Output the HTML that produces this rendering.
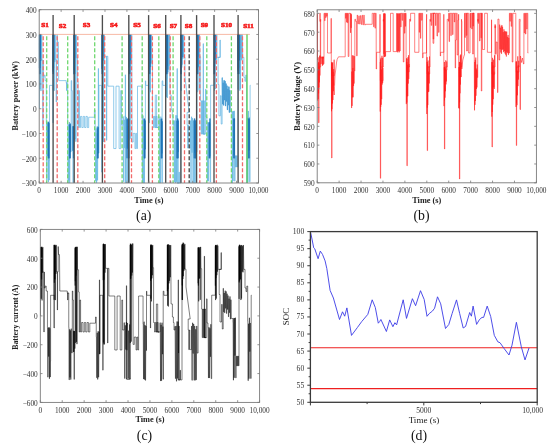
<!DOCTYPE html>
<html><head><meta charset="utf-8"><title>Battery figure</title>
<style>html,body{margin:0;padding:0;background:#fff;width:550px;height:448px;overflow:hidden}svg{display:block}</style>
</head><body>
<svg width="550" height="448" viewBox="0 0 550 448">
<style>
.tk{font-family:'Liberation Serif', 'Times New Roman', serif;font-size:7.3px;fill:#333}
.lb{font-family:'Liberation Serif', 'Times New Roman', serif;font-size:8.3px;font-weight:bold;fill:#222}
.cap{font-family:'Liberation Serif', 'Times New Roman', serif;font-size:13.8px;fill:#111}
.st{font-family:'Liberation Serif', 'Times New Roman', serif;font-size:7.1px;font-weight:bold;fill:#f51a1a;stroke:#f51a1a;stroke-width:0.6px}
.tkd{font-family:'Liberation Serif', 'Times New Roman', serif;font-size:7.6px;fill:#333}
.lbd{font-family:'Liberation Serif', 'Times New Roman', serif;font-size:9.1px;fill:#222}
</style>
<rect width="550" height="448" fill="#fff"/>
<polyline points="39.3,108.5 39.4,108.5 39.4,34.85 39.47,34.85 39.43,68.2 39.5,68.2 39.48,34.67 39.56,34.67 39.57,89.14 39.64,89.14 39.67,34.63 39.74,34.63 39.8,65.92 39.87,65.92 39.94,34.52 40.02,34.52 40.11,89.25 40.18,89.25 40.29,34.5 40.36,34.5 40.48,68 40.55,68 40.7,34.46 40.77,34.46 40.92,91.05 41,91.05 41.17,35.29 41.24,35.29 41.42,60.93 41.5,60.93 41.7,34.46 41.77,34.46 41.98,60.08 42.05,60.08 42.8,60.08 42.8,127.53 43.05,127.53 43.05,60.08 43.2,60.08 43.2,77.34 44.1,77.34 44.1,75.15 45.1,75.15 45.1,80.63 46.34,80.63 46.34,122.55 46.49,122.55 46.72,180.25 46.88,180.25 47.11,122.68 47.26,122.68 47.49,156.17 47.64,156.17 47.87,121.79 48.02,121.79 48.25,182.08 48.41,182.08 48.64,123.13 48.79,123.13 49.02,180.06 49.17,180.06 49.3,180.06 49.3,161.39 49.5,161.39 49.5,85.38 53,85.38 52.9,85.38 52.9,122.86 53.2,122.86 53.2,85.38 53,85.38 53,34.46 53.08,34.46 53.03,90.38 53.11,90.38 53.1,34.46 53.18,34.46 53.2,71.6 53.27,71.6 53.32,34.46 53.4,34.46 53.47,67.43 53.55,67.43 53.64,34.46 53.72,34.46 53.83,68.15 53.91,68.15 54.04,34.46 54.12,34.46 54.27,90.71 54.35,90.71 54.52,34.46 54.6,34.46 54.79,62.11 54.87,62.11 55.08,34.46 55.15,34.46 55.38,59.82 55.46,59.82 56.2,59.82 56.2,101.94 56.45,101.94 56.45,59.82 57.1,59.82 57.1,34.46 57.4,42.05 58.4,42.05 58.7,80.63 66.2,80.63 66.2,80.63 66.2,82.83 67.1,82.83 66.5,82.83 66.5,90.62 66.75,90.62 66.75,82.83 67.66,82.83 67.66,122.06 67.81,122.06 68.05,183 68.21,183 68.44,124.46 68.6,124.46 68.83,180.46 68.99,180.46 69.23,125.73 69.38,125.73 69.62,183 69.78,183 70.01,123.7 70.17,123.7 70.41,151.82 70.56,151.82 71.2,151.82 71.2,80.63 71.7,80.63 71.7,90.62 72.3,90.62 72.3,150.88 72.51,150.88 72.51,126.21 72.59,126.21 72.71,150.47 72.79,150.47 72.91,126.66 72.99,126.66 73.11,182.9 73.18,182.9 73.3,126.35 73.38,126.35 73.5,146.78 73.58,146.78 74,146.78 74,35.56 74.08,35.56 74.03,74.69 74.11,74.69 74.1,34.49 74.18,34.49 74.2,69.98 74.28,69.98 74.33,35.07 74.41,35.07 74.48,140.24 74.56,140.24 74.66,34.46 74.74,34.46 74.86,64.09 74.94,64.09 75.08,34.46 75.16,34.46 75.32,139.07 75.4,139.07 75.57,34.46 75.65,34.46 75.85,141.67 75.93,141.67 76.15,34.46 76.23,34.46 76.46,57.77 76.54,57.77 77.5,57.77 77.5,81.73 78.1,81.73 78.1,127.53 78.7,127.53 78.7,90.62 79.5,90.62 79.5,127.53 80.5,127.53 80.5,116.41 81.87,116.41 81.87,127.53 83.23,127.53 83.23,116.41 84.6,116.41 84.6,127.53 85.97,127.53 85.97,116.41 87.33,116.41 87.33,127.53 88.7,127.53 88.7,127.53 88.7,117.23 94.2,117.23 94.4,117.23 94.4,110 95.15,110 95.15,133.26 95.33,133.26 95.6,180.94 95.78,180.94 96.06,128.54 96.24,128.54 96.52,182.84 96.7,182.84 96.97,126.6 97.16,126.6 97.43,180.3 97.61,180.3 97.89,127.37 98.07,127.37 98.34,153.08 98.53,153.08 98.3,153.08 98.3,68.55 98.55,68.55 98.55,153.08 98.9,153.08 98.9,85.38 101.5,85.38 101.7,85.38 101.7,172.13 101.95,172.13 101.95,85.38 102.1,85.38 102.1,34.46 102.18,34.46 102.13,68.83 102.21,68.83 102.2,34.46 102.28,34.46 102.3,139.74 102.37,139.74 102.42,34.46 102.5,34.46 102.57,141.95 102.65,141.95 102.74,34.46 102.82,34.46 102.93,68.32 103.01,68.32 103.14,34.46 103.22,34.46 103.37,141.95 103.45,141.95 103.62,34.46 103.7,34.46 103.89,60.77 103.97,60.77 104.18,34.46 104.25,34.46 104.48,56.27 104.56,56.27 106.5,56.27 106.5,140.37 106.75,140.37 106.75,56.27 107.8,56.27 107.8,86.16 113.7,86.16 113.7,86.16 113.7,148.55 116,148.55 116,148.55 116,86.16 119.1,86.16 119.1,86.16 119.1,148.55 120.7,148.55 120.7,90.62 121.5,90.62 121.5,125.19 123.04,125.19 123.04,116.61 123.26,116.61 123.58,181.81 123.79,181.81 124.12,119.81 124.33,119.81 124.66,147.87 124.87,147.87 125.19,115.82 125.41,115.82 125.73,148.79 125.95,148.79 126.27,117.01 126.49,117.01 126.81,181.33 127.02,181.33 127.35,126.06 127.56,126.06 127.88,181.76 128.1,181.76 128.42,118.78 128.64,118.78 128.96,182.52 129.18,182.52 125.3,182.52 125.3,74.83 125.55,74.83 125.55,182.52 129.1,182.52 129.1,34.46 129.2,34.46 129.14,140.31 129.23,140.31 129.22,34.46 129.32,34.46 129.34,67.51 129.44,67.51 129.5,34.46 129.59,34.46 129.68,67.08 129.77,67.08 129.89,34.46 129.98,34.46 130.12,138.7 130.22,138.7 130.39,34.46 130.48,34.46 130.67,63.84 130.77,63.84 130.98,34.46 131.07,34.46 131.31,60.67 131.41,60.67 131.66,34.46 131.76,34.46 132.04,142.05 132.13,142.05 133.2,142.05 133.2,133.36 134.1,133.36 134.1,133.36 134.95,133.36 134.95,148.55 135.8,148.55 135.8,133.36 136.65,133.36 136.65,148.55 137.5,148.55 137.5,148.55 137.5,86.16 141.1,86.16 141.96,86.16 141.96,118.34 142.15,118.34 142.43,182.49 142.61,182.49 142.89,115.57 143.08,115.57 143.36,183 143.55,183 143.83,119.45 144.02,119.45 144.3,183 144.48,183 144.76,120.6 144.95,120.6 145.23,149.2 145.42,149.2 145.4,149.2 145.4,80.85 145.7,80.85 145.7,85.38 149.2,85.38 149.3,85.38 149.3,122.86 149.55,122.86 149.55,85.38 149.5,85.38 149.5,34.46 149.58,34.46 149.53,69.53 149.61,69.53 149.6,34.46 149.68,34.46 149.7,89.04 149.77,89.04 149.82,34.46 149.9,34.46 149.97,67.26 150.05,67.26 150.14,34.46 150.22,34.46 150.33,92.16 150.41,92.16 150.54,34.46 150.62,34.46 150.77,66.84 150.85,66.84 151.02,34.46 151.1,34.46 151.29,63.48 151.37,63.48 151.58,34.46 151.65,34.46 151.88,55.67 151.96,55.67 152.5,55.67 152.5,116.41 153.42,116.41 153.42,127.53 154.33,127.53 154.33,116.41 155.25,116.41 155.25,127.53 156.17,127.53 156.17,116.41 157.08,116.41 157.08,127.53 158,127.53 155.3,127.53 155.3,95.12 156.6,95.12 156.6,127.53 158.96,127.53 158.96,116.64 159.15,116.64 159.43,183 159.61,183 159.89,119.2 160.08,119.2 160.36,183 160.55,183 160.83,116.7 161.02,116.7 161.3,153.39 161.48,153.39 161.77,121.31 161.95,121.31 162.23,182.6 162.42,182.6 162.1,182.6 162.1,80.85 162.8,80.85 162.8,85.38 166,85.38 166.2,85.38 166.2,34.46 166.31,34.46 166.24,80.72 166.34,80.72 166.32,34.46 166.43,34.46 166.45,97.01 166.55,97.01 166.6,34.46 166.71,34.46 166.79,78.73 166.89,78.73 167,34.46 167.1,34.46 167.24,97.93 167.34,97.93 167.5,34.46 167.61,34.46 167.79,72.28 167.9,72.28 168.1,34.46 168.21,34.46 168.44,69.55 168.54,69.55 168.79,34.46 168.9,34.46 169.17,65.67 169.28,65.67 169.57,34.46 169.68,34.46 169.99,95.09 170.1,95.09 171.3,95.09 171.3,110 172.3,110 172.3,116.41 172.9,116.41 172.9,125.19 173.8,125.19 173.8,120.98 174,120.98 174.31,181.95 174.51,181.95 174.82,120.52 175.02,120.52 175.33,183 175.53,183 175.84,115.31 176.04,115.31 176.35,181.69 176.55,181.69 176.86,115.47 177.06,115.47 177.37,152.06 177.57,152.06 177.88,120.65 178.08,120.65 178.39,183 178.59,183 177.1,183 177.1,68.55 177.35,68.55 177.35,183 179.1,183 179.1,172.13 179.35,172.13 179.35,183 180.9,183 180.9,34.46 180.99,34.46 180.93,90.48 181.02,90.48 181,34.46 181.09,34.46 181.1,74.46 181.19,74.46 181.23,34.46 181.32,34.46 181.39,90.63 181.47,90.63 181.56,34.46 181.65,34.46 181.76,67.56 181.85,67.56 181.98,34.46 182.07,34.46 182.22,64.53 182.31,64.53 182.48,34.46 182.57,34.46 182.76,58.97 182.84,58.97 183.05,34.46 183.14,34.46 183.37,57.28 183.45,57.28 183.7,34.46 183.78,34.46 184.05,57.19 184.13,57.19 184.9,57.19 184.9,76.24 189.1,112.32 187.1,112.32 187.1,125.19 187.65,125.19 187.65,148.08 188.2,148.08 188.2,125.19 188.75,125.19 188.75,148.08 189.3,148.08 190.39,148.08 190.39,120.69 190.6,120.69 190.91,183 191.12,183 191.43,116.82 191.64,116.82 191.95,152.61 192.15,152.61 192.46,118.15 192.67,118.15 192.98,183 193.19,183 193.5,120.59 193.7,120.59 194.01,183 194.22,183 194.53,124.37 194.74,124.37 195.05,183 195.26,183 195.57,120.57 195.77,120.57 196.08,152.16 196.29,152.16 197,152.16 197,34.85 197.09,34.85 197.04,72.18 197.13,72.18 197.12,34.89 197.21,34.89 197.24,74.68 197.33,74.68 197.39,35.22 197.48,35.22 197.56,92.11 197.66,92.11 197.77,34.56 197.86,34.56 198,67.41 198.09,67.41 198.25,35.59 198.34,35.59 198.53,66.67 198.62,66.67 198.83,34.46 198.92,34.46 199.15,90.43 199.24,90.43 199.49,34.46 199.59,34.46 199.86,56.68 199.95,56.68 200.6,56.68 200.6,100.8 201.14,100.8 201.14,134.07 201.67,134.07 201.67,100.8 202.21,100.8 202.21,134.07 202.75,134.07 202.75,100.8 203.29,100.8 203.29,134.07 203.82,134.07 203.82,100.8 204.36,100.8 204.36,134.07 204.9,134.07 203.2,134.07 203.2,43.68 203.45,43.68 203.45,134.07 205.6,134.07 205.6,89.28 205.9,89.28 205.9,116.99 206.86,116.99 206.86,122.51 207.05,122.51 207.33,181.2 207.51,181.2 207.8,122.03 207.98,122.03 208.26,181.16 208.45,181.16 208.73,123.2 208.92,123.2 209.2,156.42 209.38,156.42 209.66,118.54 209.85,118.54 210.13,182.05 210.32,182.05 210.6,182.05 210.6,85.27 214,85.27 214.2,85.27 214.2,34.46 214.29,34.46 214.24,74.78 214.33,74.78 214.32,34.46 214.41,34.46 214.44,90.68 214.53,90.68 214.59,34.46 214.68,34.46 214.76,66.62 214.86,66.62 214.97,34.46 215.06,34.46 215.2,89.01 215.29,89.01 215.45,34.46 215.54,34.46 215.73,63.49 215.82,63.49 216.03,34.46 216.12,34.46 216.35,59.71 216.44,59.71 216.69,34.46 216.79,34.46 217.06,57.36 217.15,57.36 220,57.36 220,40.01 220.25,40.01 220.25,57.36 218.1,57.36 218.1,84.49 218.9,84.49 218.9,115.82 220.4,115.82 220.4,95.69 221.2,95.69 221.2,124.02 222.1,124.02 222.1,77.69 222.29,77.69 222.58,104.1 222.77,104.1 223.06,82.89 223.25,82.89 223.53,105.25 223.72,105.25 224.01,80.35 224.2,80.35 224.49,100.06 224.68,100.06 224.97,81.21 225.16,81.21 225.44,106.03 225.64,106.03 225.92,83.71 226.11,83.71 226.4,101.35 226.59,101.35 226.88,85.79 227.07,85.79 227.36,109.82 227.55,109.82 227.83,89.24 228.02,89.24 228.31,105.08 228.5,105.08 228.79,86.74 228.98,86.74 229.27,112.47 229.46,112.47 229.74,90.33 229.94,90.33 230.22,111.73 230.41,111.73 231.86,111.73 231.86,116.29 232.01,116.29 232.25,183 232.41,183 232.64,111.34 232.8,111.34 233.03,180.97 233.19,180.97 233.43,111.26 233.58,111.26 233.82,155.04 233.98,155.04 234.21,110.9 234.37,110.9 234.61,181.08 234.76,181.08 235,181.08 235,155.78 235.48,155.78 235.48,166.99 235.97,166.99 235.97,155.78 236.45,155.78 236.45,166.99 236.93,166.99 236.93,155.78 237.42,155.78 237.42,166.99 237.9,166.99 237.9,166.99 237.9,34.46 238,34.46 237.93,89.38 238.04,89.38 238,34.46 238.11,34.46 238.11,71.21 238.21,71.21 238.24,34.46 238.34,34.46 238.39,69.49 238.5,69.49 238.57,34.46 238.68,34.46 238.78,68.45 238.88,68.45 239,34.46 239.1,34.46 239.24,67.61 239.35,67.61 239.51,34.46 239.61,34.46 239.79,90.62 239.89,90.62 240.09,34.46 240.19,34.46 240.41,89.01 240.51,89.01 240.75,34.46 240.85,34.46 241.1,59.62 241.21,59.62 241.47,34.46 241.58,34.46 241.86,60.44 241.96,60.44 242.26,34.46 242.37,34.46 242.68,57.37 242.79,57.37 243.9,57.37 243.9,77.34 244.9,77.34 244.9,81.29 245.7,81.29 245.7,75.15 246.58,75.15 246.58,114.95 246.75,114.95 247,183 247.17,183 247.41,117.89 247.58,117.89 247.83,181.99 247.99,181.99 248.24,110.97 248.41,110.97 248.66,150.4 248.82,150.4 249.07,117.06 249.24,117.06 249.49,181.73 249.65,181.73 250.1,181.73 250.1,85.27 250.5,85.27" fill="none" stroke="#62b4e2" stroke-width="0.7" />
<polyline points="39.4,34.85 39.43,34.85 39.41,68.2 39.44,68.2 39.43,34.67 39.46,34.67 39.47,74.07 39.5,74.07 39.51,34.63 39.54,34.63 39.56,65.92 39.59,65.92 39.62,34.52 39.65,34.52 39.68,74.07 39.71,74.07 39.75,34.5 39.78,34.5 39.83,68 39.86,68 39.92,34.46 39.95,34.46 40.01,74.07 40.04,74.07 40.11,35.29 40.14,35.29 40.21,60.93 40.24,60.93 40.32,34.46 40.35,34.46 40.43,60.08 40.46,60.08" fill="none" stroke="#1f72b6" stroke-width="0.6" />
<polyline points="48.04,122.55 48.1,122.55 48.19,158.24 48.25,158.24 48.34,122.68 48.41,122.68 48.5,156.17 48.56,156.17 48.65,121.79 48.71,121.79 48.8,158.24 48.86,158.24 48.96,123.13 49.02,123.13 49.11,158.24 49.17,158.24" fill="none" stroke="#1f72b6" stroke-width="0.6" />
<polyline points="53,34.46 53.03,34.46 53.01,74.07 53.04,74.07 53.04,34.46 53.07,34.46 53.08,71.6 53.11,71.6 53.13,34.46 53.16,34.46 53.19,67.43 53.22,67.43 53.26,34.46 53.29,34.46 53.33,68.15 53.36,68.15 53.42,34.46 53.45,34.46 53.51,74.07 53.54,74.07 53.61,34.46 53.64,34.46 53.72,62.11 53.75,62.11 53.83,34.46 53.86,34.46 53.95,59.82 53.98,59.82" fill="none" stroke="#1f72b6" stroke-width="0.6" />
<polyline points="69.4,122.06 69.46,122.06 69.56,158.24 69.62,158.24 69.71,124.46 69.78,124.46 69.87,158.24 69.94,158.24 70.03,125.73 70.09,125.73 70.19,158.24 70.25,158.24 70.34,123.7 70.41,123.7 70.5,151.82 70.56,151.82" fill="none" stroke="#1f72b6" stroke-width="0.6" />
<polyline points="73.15,126.21 73.18,126.21 73.23,150.47 73.26,150.47 73.31,126.66 73.34,126.66 73.39,158.24 73.42,158.24 73.47,126.35 73.5,126.35 73.55,146.78 73.58,146.78" fill="none" stroke="#1f72b6" stroke-width="0.6" />
<polyline points="74,35.56 74.03,35.56 74.01,74.07 74.04,74.07 74.04,34.49 74.07,34.49 74.08,69.98 74.11,69.98 74.13,35.07 74.16,35.07 74.19,74.07 74.23,74.07 74.26,34.46 74.3,34.46 74.34,64.09 74.38,64.09 74.43,34.46 74.46,34.46 74.53,74.07 74.56,74.07 74.63,34.46 74.66,34.46 74.74,74.07 74.77,74.07 74.86,34.46 74.89,34.46 74.98,57.77 75.02,57.77" fill="none" stroke="#1f72b6" stroke-width="0.6" />
<polyline points="97.17,133.26 97.25,133.26 97.36,158.24 97.43,158.24 97.54,128.54 97.61,128.54 97.72,158.24 97.79,158.24 97.9,126.6 97.98,126.6 98.09,158.24 98.16,158.24 98.27,127.37 98.34,127.37 98.45,153.08 98.53,153.08" fill="none" stroke="#1f72b6" stroke-width="0.6" />
<polyline points="102.1,34.46 102.13,34.46 102.11,68.83 102.14,68.83 102.14,34.46 102.17,34.46 102.18,74.07 102.21,74.07 102.23,34.46 102.26,34.46 102.29,74.07 102.32,74.07 102.36,34.46 102.39,34.46 102.43,68.32 102.46,68.32 102.52,34.46 102.55,34.46 102.61,74.07 102.64,74.07 102.71,34.46 102.74,34.46 102.82,60.77 102.85,60.77 102.93,34.46 102.96,34.46 103.05,56.27 103.08,56.27" fill="none" stroke="#1f72b6" stroke-width="0.6" />
<polyline points="126.72,118.63 126.81,118.63 126.94,158.24 127.02,158.24 127.15,119.81 127.24,119.81 127.37,147.87 127.45,147.87 127.58,118.63 127.67,118.63 127.8,148.79 127.88,148.79 128.01,118.63 128.1,118.63 128.23,158.24 128.32,158.24 128.44,126.06 128.53,126.06 128.66,158.24 128.75,158.24 128.88,118.78 128.96,118.78 129.09,158.24 129.18,158.24" fill="none" stroke="#1f72b6" stroke-width="0.6" />
<polyline points="129.1,34.46 129.14,34.46 129.11,74.07 129.15,74.07 129.15,34.46 129.19,34.46 129.2,67.51 129.24,67.51 129.26,34.46 129.3,34.46 129.33,67.08 129.37,67.08 129.42,34.46 129.45,34.46 129.51,74.07 129.55,74.07 129.61,34.46 129.65,34.46 129.73,63.84 129.77,63.84 129.85,34.46 129.89,34.46 129.98,60.67 130.02,60.67 130.12,34.46 130.16,34.46 130.27,74.07 130.31,74.07" fill="none" stroke="#1f72b6" stroke-width="0.6" />
<polyline points="144.04,118.63 144.11,118.63 144.22,158.24 144.3,158.24 144.41,118.63 144.48,118.63 144.6,158.24 144.67,158.24 144.78,119.45 144.86,119.45 144.97,158.24 145.05,158.24 145.16,120.6 145.23,120.6 145.34,149.2 145.42,149.2" fill="none" stroke="#1f72b6" stroke-width="0.6" />
<polyline points="149.5,34.46 149.53,34.46 149.51,69.53 149.54,69.53 149.54,34.46 149.57,34.46 149.58,74.07 149.61,74.07 149.63,34.46 149.66,34.46 149.69,67.26 149.72,67.26 149.76,34.46 149.79,34.46 149.83,74.07 149.86,74.07 149.92,34.46 149.95,34.46 150.01,66.84 150.04,66.84 150.11,34.46 150.14,34.46 150.22,63.48 150.25,63.48 150.33,34.46 150.36,34.46 150.45,55.67 150.48,55.67" fill="none" stroke="#1f72b6" stroke-width="0.6" />
<polyline points="161.04,118.63 161.11,118.63 161.22,158.24 161.3,158.24 161.41,119.2 161.48,119.2 161.6,158.24 161.67,158.24 161.78,118.63 161.86,118.63 161.97,153.39 162.05,153.39 162.16,121.31 162.23,121.31 162.34,158.24 162.42,158.24" fill="none" stroke="#1f72b6" stroke-width="0.6" />
<polyline points="166.2,34.46 166.24,34.46 166.22,74.07 166.26,74.07 166.25,34.46 166.29,34.46 166.3,74.07 166.34,74.07 166.36,34.46 166.4,34.46 166.43,74.07 166.48,74.07 166.52,34.46 166.56,34.46 166.62,74.07 166.66,74.07 166.72,34.46 166.76,34.46 166.84,72.28 166.88,72.28 166.96,34.46 167,34.46 167.09,69.55 167.14,69.55 167.24,34.46 167.28,34.46 167.39,65.67 167.43,65.67 167.55,34.46 167.59,34.46 167.72,74.07 167.76,74.07" fill="none" stroke="#1f72b6" stroke-width="0.6" />
<polyline points="176.68,120.98 176.76,120.98 176.88,158.24 176.96,158.24 177.08,120.52 177.17,120.52 177.29,158.24 177.37,158.24 177.49,118.63 177.57,118.63 177.7,158.24 177.78,158.24 177.9,118.63 177.98,118.63 178.1,152.06 178.19,152.06 178.31,120.65 178.39,120.65 178.51,158.24 178.59,158.24" fill="none" stroke="#1f72b6" stroke-width="0.6" />
<polyline points="180.9,34.46 180.94,34.46 180.91,74.07 180.95,74.07 180.94,34.46 180.98,34.46 180.98,74.07 181.02,74.07 181.03,34.46 181.07,34.46 181.09,74.07 181.13,74.07 181.16,34.46 181.2,34.46 181.24,67.56 181.28,67.56 181.33,34.46 181.37,34.46 181.43,64.53 181.46,64.53 181.53,34.46 181.57,34.46 181.64,58.97 181.68,58.97 181.76,34.46 181.8,34.46 181.89,57.28 181.92,57.28 182.02,34.46 182.05,34.46 182.16,57.19 182.19,57.19" fill="none" stroke="#1f72b6" stroke-width="0.6" />
<polyline points="193.93,120.69 194.01,120.69 194.14,158.24 194.22,158.24 194.35,118.63 194.43,118.63 194.55,152.61 194.64,152.61 194.76,118.63 194.84,118.63 194.97,158.24 195.05,158.24 195.17,120.59 195.26,120.59 195.38,158.24 195.46,158.24 195.59,124.37 195.67,124.37 195.79,158.24 195.88,158.24 196,120.57 196.08,120.57 196.21,152.16 196.29,152.16" fill="none" stroke="#1f72b6" stroke-width="0.6" />
<polyline points="197,34.85 197.04,34.85 197.01,72.18 197.05,72.18 197.05,34.89 197.08,34.89 197.09,74.07 197.13,74.07 197.15,35.22 197.19,35.22 197.23,74.07 197.26,74.07 197.31,34.56 197.34,34.56 197.4,67.41 197.44,67.41 197.5,35.59 197.54,35.59 197.61,66.67 197.65,66.67 197.73,34.46 197.77,34.46 197.86,74.07 197.9,74.07 198,34.46 198.03,34.46 198.14,56.68 198.18,56.68" fill="none" stroke="#1f72b6" stroke-width="0.6" />
<polyline points="208.94,122.51 209.01,122.51 209.12,158.24 209.2,158.24 209.31,122.03 209.38,122.03 209.5,158.24 209.57,158.24 209.68,123.2 209.76,123.2 209.87,156.42 209.95,156.42 210.06,118.63 210.13,118.63 210.24,158.24 210.32,158.24" fill="none" stroke="#1f72b6" stroke-width="0.6" />
<polyline points="214.2,34.46 214.24,34.46 214.21,74.07 214.25,74.07 214.25,34.46 214.28,34.46 214.29,74.07 214.33,74.07 214.35,34.46 214.39,34.46 214.43,66.62 214.46,66.62 214.51,34.46 214.54,34.46 214.6,74.07 214.64,74.07 214.7,34.46 214.74,34.46 214.81,63.49 214.85,63.49 214.93,34.46 214.97,34.46 215.06,59.71 215.1,59.71 215.2,34.46 215.23,34.46 215.34,57.36 215.38,57.36" fill="none" stroke="#1f72b6" stroke-width="0.6" />
<polyline points="222.1,77.69 222.29,77.69 222.58,104.1 222.77,104.1 223.06,82.89 223.25,82.89 223.53,105.25 223.72,105.25 224.01,80.35 224.2,80.35 224.49,100.06 224.68,100.06 224.97,81.21 225.16,81.21 225.44,106.03 225.64,106.03 225.92,83.71 226.11,83.71 226.4,101.35 226.59,101.35 226.88,85.79 227.07,85.79 227.36,109.82 227.55,109.82 227.83,89.24 228.02,89.24 228.31,105.08 228.5,105.08 228.79,86.74 228.98,86.74 229.27,112.47 229.46,112.47 229.74,90.33 229.94,90.33 230.22,111.73 230.41,111.73" fill="none" stroke="#3f93cf" stroke-width="0.6" />
<polyline points="233.6,118.63 233.66,118.63 233.76,158.24 233.82,158.24 233.91,118.63 233.98,118.63 234.07,158.24 234.14,158.24 234.23,118.63 234.29,118.63 234.39,155.04 234.45,155.04 234.54,118.63 234.61,118.63 234.7,158.24 234.76,158.24" fill="none" stroke="#1f72b6" stroke-width="0.6" />
<polyline points="237.9,34.46 237.94,34.46 237.91,74.07 237.95,74.07 237.94,34.46 237.98,34.46 237.98,71.21 238.02,71.21 238.04,34.46 238.08,34.46 238.1,69.49 238.14,69.49 238.17,34.46 238.21,34.46 238.25,68.45 238.29,68.45 238.34,34.46 238.38,34.46 238.44,67.61 238.48,67.61 238.54,34.46 238.58,34.46 238.66,74.07 238.7,74.07 238.78,34.46 238.82,34.46 238.9,74.07 238.95,74.07 239.04,34.46 239.08,34.46 239.18,59.62 239.22,59.62 239.33,34.46 239.37,34.46 239.48,60.44 239.53,60.44 239.65,34.46 239.69,34.46 239.81,57.37 239.86,57.37" fill="none" stroke="#1f72b6" stroke-width="0.6" />
<polyline points="248.42,118.63 248.49,118.63 248.59,158.24 248.66,158.24 248.76,118.63 248.82,118.63 248.92,158.24 248.99,158.24 249.09,118.63 249.15,118.63 249.25,150.4 249.32,150.4 249.42,118.63 249.49,118.63 249.59,158.24 249.65,158.24" fill="none" stroke="#1f72b6" stroke-width="0.6" />
<line x1="39.2" y1="34.4" x2="249.9" y2="34.4" stroke="#f5a88e" stroke-width="0.8"/>
<line x1="43.2" y1="34.4" x2="43.2" y2="183.0" stroke="#f26a6a" stroke-width="1.3" stroke-dasharray="4 2" stroke-dashoffset="4.2"/>
<line x1="57.2" y1="34.4" x2="57.2" y2="183.0" stroke="#f26a6a" stroke-width="1.3" stroke-dasharray="4 2" stroke-dashoffset="4.2"/>
<line x1="77.8" y1="34.4" x2="77.8" y2="183.0" stroke="#f26a6a" stroke-width="1.3" stroke-dasharray="4 2" stroke-dashoffset="4.2"/>
<line x1="104.7" y1="34.4" x2="104.7" y2="183.0" stroke="#f26a6a" stroke-width="1.3" stroke-dasharray="4 2" stroke-dashoffset="4.2"/>
<line x1="131.5" y1="34.4" x2="131.5" y2="183.0" stroke="#f26a6a" stroke-width="1.3" stroke-dasharray="4 2" stroke-dashoffset="4.2"/>
<line x1="152.4" y1="34.4" x2="152.4" y2="183.0" stroke="#f26a6a" stroke-width="1.3" stroke-dasharray="4 2" stroke-dashoffset="4.2"/>
<line x1="170.2" y1="34.4" x2="170.2" y2="183.0" stroke="#f26a6a" stroke-width="1.3" stroke-dasharray="4 2" stroke-dashoffset="4.2"/>
<line x1="184.5" y1="34.4" x2="184.5" y2="183.0" stroke="#f26a6a" stroke-width="1.3" stroke-dasharray="4 2" stroke-dashoffset="4.2"/>
<line x1="199.8" y1="34.4" x2="199.8" y2="183.0" stroke="#f26a6a" stroke-width="1.3" stroke-dasharray="4 2" stroke-dashoffset="4.2"/>
<line x1="216.4" y1="34.4" x2="216.4" y2="183.0" stroke="#f26a6a" stroke-width="1.3" stroke-dasharray="4 2" stroke-dashoffset="4.2"/>
<line x1="242.5" y1="34.4" x2="242.5" y2="183.0" stroke="#f26a6a" stroke-width="1.3" stroke-dasharray="4 2" stroke-dashoffset="4.2"/>
<line x1="46.7" y1="34.4" x2="46.7" y2="183.0" stroke="#6fd86f" stroke-width="1.3" stroke-dasharray="4 2" stroke-dashoffset="4.2"/>
<line x1="67.7" y1="34.4" x2="67.7" y2="183.0" stroke="#6fd86f" stroke-width="1.3" stroke-dasharray="4 2" stroke-dashoffset="4.2"/>
<line x1="94.7" y1="34.4" x2="94.7" y2="183.0" stroke="#6fd86f" stroke-width="1.3" stroke-dasharray="4 2" stroke-dashoffset="4.2"/>
<line x1="122.1" y1="34.4" x2="122.1" y2="183.0" stroke="#6fd86f" stroke-width="1.3" stroke-dasharray="4 2" stroke-dashoffset="4.2"/>
<line x1="142.2" y1="34.4" x2="142.2" y2="183.0" stroke="#6fd86f" stroke-width="1.3" stroke-dasharray="4 2" stroke-dashoffset="4.2"/>
<line x1="158.8" y1="34.4" x2="158.8" y2="183.0" stroke="#6fd86f" stroke-width="1.3" stroke-dasharray="4 2" stroke-dashoffset="4.2"/>
<line x1="173.1" y1="34.4" x2="173.1" y2="183.0" stroke="#6fd86f" stroke-width="1.3" stroke-dasharray="4 2" stroke-dashoffset="4.2"/>
<line x1="206.8" y1="34.4" x2="206.8" y2="183.0" stroke="#6fd86f" stroke-width="1.3" stroke-dasharray="4 2" stroke-dashoffset="4.2"/>
<line x1="231.4" y1="34.4" x2="231.4" y2="183.0" stroke="#6fd86f" stroke-width="1.3" stroke-dasharray="4 2" stroke-dashoffset="4.2"/>
<line x1="189.2" y1="34.4" x2="189.2" y2="183.0" stroke="#444" stroke-width="1.3" stroke-dasharray="4 2" stroke-dashoffset="4.2"/>
<line x1="247.0" y1="34.4" x2="247.0" y2="183.0" stroke="#52cc52" stroke-width="1.3"/>
<line x1="53.1" y1="15.1" x2="53.1" y2="183.0" stroke="#4d4d4d" stroke-width="1.35"/>
<line x1="74.2" y1="15.1" x2="74.2" y2="183.0" stroke="#4d4d4d" stroke-width="1.35"/>
<line x1="102.4" y1="15.1" x2="102.4" y2="183.0" stroke="#4d4d4d" stroke-width="1.35"/>
<line x1="128.8" y1="15.1" x2="128.8" y2="183.0" stroke="#4d4d4d" stroke-width="1.35"/>
<line x1="148.6" y1="15.1" x2="148.6" y2="183.0" stroke="#4d4d4d" stroke-width="1.35"/>
<line x1="165.7" y1="15.1" x2="165.7" y2="183.0" stroke="#4d4d4d" stroke-width="1.35"/>
<line x1="180.9" y1="15.1" x2="180.9" y2="183.0" stroke="#4d4d4d" stroke-width="1.35"/>
<line x1="196.6" y1="15.1" x2="196.6" y2="183.0" stroke="#4d4d4d" stroke-width="1.35"/>
<line x1="214.0" y1="15.1" x2="214.0" y2="183.0" stroke="#4d4d4d" stroke-width="1.35"/>
<line x1="238.1" y1="15.1" x2="238.1" y2="183.0" stroke="#4d4d4d" stroke-width="1.35"/>
<text x="45.1" y="27.3" text-anchor="middle" class="st">S1</text>
<text x="62.5" y="28.3" text-anchor="middle" class="st">S2</text>
<text x="86.5" y="26.9" text-anchor="middle" class="st">S3</text>
<text x="113.8" y="27.3" text-anchor="middle" class="st">S4</text>
<text x="137.1" y="27.3" text-anchor="middle" class="st">S5</text>
<text x="157.0" y="27.5" text-anchor="middle" class="st">S6</text>
<text x="173.4" y="27.8" text-anchor="middle" class="st">S7</text>
<text x="188.5" y="27.5" text-anchor="middle" class="st">S8</text>
<text x="204.4" y="27.3" text-anchor="middle" class="st">S9</text>
<text x="226.5" y="27.3" text-anchor="middle" class="st">S10</text>
<text x="248.5" y="27.6" text-anchor="middle" class="st">S11</text>
<rect x="39.2" y="9.7" width="219.3" height="173.3" fill="none" stroke="#7a7a7a" stroke-width="0.9"/>
<line x1="39.2" y1="183" x2="39.2" y2="180.8" stroke="#7a7a7a" stroke-width="0.8"/>
<line x1="39.2" y1="9.7" x2="39.2" y2="11.9" stroke="#7a7a7a" stroke-width="0.8"/>
<text x="39.2" y="193.1" text-anchor="middle" class="tk">0</text>
<line x1="61.13" y1="183" x2="61.13" y2="180.8" stroke="#7a7a7a" stroke-width="0.8"/>
<line x1="61.13" y1="9.7" x2="61.13" y2="11.9" stroke="#7a7a7a" stroke-width="0.8"/>
<text x="61.13" y="193.1" text-anchor="middle" class="tk">1000</text>
<line x1="83.06" y1="183" x2="83.06" y2="180.8" stroke="#7a7a7a" stroke-width="0.8"/>
<line x1="83.06" y1="9.7" x2="83.06" y2="11.9" stroke="#7a7a7a" stroke-width="0.8"/>
<text x="83.06" y="193.1" text-anchor="middle" class="tk">2000</text>
<line x1="104.99" y1="183" x2="104.99" y2="180.8" stroke="#7a7a7a" stroke-width="0.8"/>
<line x1="104.99" y1="9.7" x2="104.99" y2="11.9" stroke="#7a7a7a" stroke-width="0.8"/>
<text x="104.99" y="193.1" text-anchor="middle" class="tk">3000</text>
<line x1="126.92" y1="183" x2="126.92" y2="180.8" stroke="#7a7a7a" stroke-width="0.8"/>
<line x1="126.92" y1="9.7" x2="126.92" y2="11.9" stroke="#7a7a7a" stroke-width="0.8"/>
<text x="126.92" y="193.1" text-anchor="middle" class="tk">4000</text>
<line x1="148.85" y1="183" x2="148.85" y2="180.8" stroke="#7a7a7a" stroke-width="0.8"/>
<line x1="148.85" y1="9.7" x2="148.85" y2="11.9" stroke="#7a7a7a" stroke-width="0.8"/>
<text x="148.85" y="193.1" text-anchor="middle" class="tk">5000</text>
<line x1="170.78" y1="183" x2="170.78" y2="180.8" stroke="#7a7a7a" stroke-width="0.8"/>
<line x1="170.78" y1="9.7" x2="170.78" y2="11.9" stroke="#7a7a7a" stroke-width="0.8"/>
<text x="170.78" y="193.1" text-anchor="middle" class="tk">6000</text>
<line x1="192.71" y1="183" x2="192.71" y2="180.8" stroke="#7a7a7a" stroke-width="0.8"/>
<line x1="192.71" y1="9.7" x2="192.71" y2="11.9" stroke="#7a7a7a" stroke-width="0.8"/>
<text x="192.71" y="193.1" text-anchor="middle" class="tk">7000</text>
<line x1="214.64" y1="183" x2="214.64" y2="180.8" stroke="#7a7a7a" stroke-width="0.8"/>
<line x1="214.64" y1="9.7" x2="214.64" y2="11.9" stroke="#7a7a7a" stroke-width="0.8"/>
<text x="214.64" y="193.1" text-anchor="middle" class="tk">8000</text>
<line x1="236.57" y1="183" x2="236.57" y2="180.8" stroke="#7a7a7a" stroke-width="0.8"/>
<line x1="236.57" y1="9.7" x2="236.57" y2="11.9" stroke="#7a7a7a" stroke-width="0.8"/>
<text x="236.57" y="193.1" text-anchor="middle" class="tk">9000</text>
<line x1="258.5" y1="183" x2="258.5" y2="180.8" stroke="#7a7a7a" stroke-width="0.8"/>
<line x1="258.5" y1="9.7" x2="258.5" y2="11.9" stroke="#7a7a7a" stroke-width="0.8"/>
<text x="258.5" y="193.1" text-anchor="middle" class="tk">10,000</text>
<line x1="39.2" y1="183" x2="41.4" y2="183" stroke="#7a7a7a" stroke-width="0.8"/>
<line x1="258.5" y1="183" x2="256.3" y2="183" stroke="#7a7a7a" stroke-width="0.8"/>
<text x="36.6" y="186.3" text-anchor="end" class="tk">−300</text>
<line x1="39.2" y1="158.24" x2="41.4" y2="158.24" stroke="#7a7a7a" stroke-width="0.8"/>
<line x1="258.5" y1="158.24" x2="256.3" y2="158.24" stroke="#7a7a7a" stroke-width="0.8"/>
<text x="36.6" y="161.54" text-anchor="end" class="tk">−200</text>
<line x1="39.2" y1="133.49" x2="41.4" y2="133.49" stroke="#7a7a7a" stroke-width="0.8"/>
<line x1="258.5" y1="133.49" x2="256.3" y2="133.49" stroke="#7a7a7a" stroke-width="0.8"/>
<text x="36.6" y="136.79" text-anchor="end" class="tk">−100</text>
<line x1="39.2" y1="108.73" x2="41.4" y2="108.73" stroke="#7a7a7a" stroke-width="0.8"/>
<line x1="258.5" y1="108.73" x2="256.3" y2="108.73" stroke="#7a7a7a" stroke-width="0.8"/>
<text x="36.6" y="112.03" text-anchor="end" class="tk">0</text>
<line x1="39.2" y1="83.97" x2="41.4" y2="83.97" stroke="#7a7a7a" stroke-width="0.8"/>
<line x1="258.5" y1="83.97" x2="256.3" y2="83.97" stroke="#7a7a7a" stroke-width="0.8"/>
<text x="36.6" y="87.27" text-anchor="end" class="tk">100</text>
<line x1="39.2" y1="59.21" x2="41.4" y2="59.21" stroke="#7a7a7a" stroke-width="0.8"/>
<line x1="258.5" y1="59.21" x2="256.3" y2="59.21" stroke="#7a7a7a" stroke-width="0.8"/>
<text x="36.6" y="62.51" text-anchor="end" class="tk">200</text>
<line x1="39.2" y1="34.46" x2="41.4" y2="34.46" stroke="#7a7a7a" stroke-width="0.8"/>
<line x1="258.5" y1="34.46" x2="256.3" y2="34.46" stroke="#7a7a7a" stroke-width="0.8"/>
<text x="36.6" y="37.76" text-anchor="end" class="tk">300</text>
<line x1="39.2" y1="9.7" x2="41.4" y2="9.7" stroke="#7a7a7a" stroke-width="0.8"/>
<line x1="258.5" y1="9.7" x2="256.3" y2="9.7" stroke="#7a7a7a" stroke-width="0.8"/>
<text x="36.6" y="13" text-anchor="end" class="tk">400</text>
<text transform="translate(18.3,95.7) rotate(-90)" text-anchor="middle" class="lb" style="font-size:8.1px">Battery power (kW)</text>
<text x="148.85" y="202.8" text-anchor="middle" class="lb">Time (s)</text>
<text x="143.7" y="219.5" text-anchor="middle" class="cap">(a)</text>
<polyline points="317.3,13.3 317.5,60 317.5,60 317.5,14.3 317.5,62.14 317.7,100.52 317.94,70.64 318.14,98.95 318.39,63.14 318.59,93.32 318.83,57.32 319.03,87.44 319.27,65.34 319.47,82.37 319.71,55.69 319.91,75.51 320.16,55.63 320.36,64.18 318.6,64.18 318.6,62 318.65,62 318.65,122.8 318.95,122.8 318.95,67 320.66,67 320.66,19.3 320.6,19.3 320.6,21.3 319.8,21.3 319.8,13.3 320.3,13.3 320.3,57.9 324,57.9 321.5,56.85 321.62,56.85 321.79,63.88 321.9,63.88 322.07,56.99 322.19,56.99 322.36,65.73 322.48,65.73 322.65,56.83 322.76,56.83 322.94,65.03 323.05,65.03 323.23,56.58 323.34,56.58 323.51,63.83 323.63,63.83 324,63.83 324,13.3 324.4,13.3 324.4,13.3 324.69,13.3 324.69,20.76 324.96,20.76 324.96,13.3 325.66,13.3 325.66,17.71 325.98,17.71 325.98,13.3 326.62,13.3 326.62,16.27 327.01,16.27 327.01,13.3 327.3,13.3 327.5,13.3 327.5,53 331.1,53 331.1,53 331.1,18.4 331.3,18.4 331.3,19 331.3,61.93 331.51,111.26 331.77,63.34 331.98,109.18 332.24,63 332.45,103.53 332.71,62.23 332.93,100.02 333.19,71.96 333.4,91.13 333.66,69.12 333.87,85.51 334.13,59.67 334.34,75.59 331.6,75.59 331.6,62 331.65,62 331.65,158 331.95,158 331.95,67 334.2,95 335,75 335.8,69 336.6,62 337.2,59.2 338.5,56.8 344.8,56.8 345.2,56.8 345.2,13.3 345.4,13.3 345.4,13.3 345.66,13.3 345.66,18.31 345.93,18.31 345.93,13.3 346.53,13.3 346.53,22.13 346.9,22.13 346.9,13.3 347.39,13.3 347.39,22.77 347.76,22.77 347.76,13.3 348,13.3 348.2,13.3 348.2,56.5 348.9,56.5 348.9,13.3 350.2,13.3 350.3,13.78 350.39,13.78 350.52,32.78 350.61,32.78 350.75,13.3 350.84,13.3 350.98,27.68 351.06,27.68 351.4,27.68 351.4,14.3 351.4,70.38 351.62,108.04 351.89,71.65 352.1,105.9 352.37,55.31 352.59,97.34 352.86,68.01 353.08,97.27 353.34,55.57 353.56,86.05 353.83,71.35 354.05,83.54 354.31,56.12 354.53,71.1 354.83,71.1 354.83,19.3 355.6,19.3 355.6,21.3 356.6,21.3 356.6,55.8 357.2,55.8 357.2,16.3 357.2,15.1 357.53,15.1 358.03,23.9 358.36,23.9 358.86,15.8 359.19,15.8 359.69,24.08 360.02,24.08 360.52,15.56 360.85,15.56 361.35,24.52 361.68,24.52 362.18,15.19 362.51,15.19 363.01,24.97 363.34,24.97 363.84,15.13 364.17,15.13 364.67,24.83 365,24.83 365.5,24.83 365.5,24.3 372.2,24.3 372.2,24.3 372.2,13.3 373.2,13.3 373.2,13.3 373.2,13.3 373.62,13.3 373.62,26.75 374,26.75 374,13.3 375.02,13.3 375.02,28.19 375.35,28.19 375.35,13.3 376,13.3 376.2,13.3 376.2,69 376.6,69 376.6,52.3 380,52.3 380,52.3 380,14.3 380,71.48 380.22,111.57 380.49,59.47 380.7,106.96 380.97,57.79 381.19,104.8 381.46,69.38 381.68,99.13 381.94,55.81 382.16,84.55 382.43,57.84 382.65,82.91 382.91,67.91 383.13,80.52 380.3,80.52 380.3,62 380.35,62 380.35,178.3 380.65,178.3 380.65,67 383.43,67 383.43,19.3 383.4,19.3 383.4,21.3 383.6,13.6 383.7,13.6 383.85,53.84 383.95,53.84 384.1,13.39 384.2,13.39 384.35,56.9 384.45,56.9 384.6,13.54 384.7,13.54 384.85,57.01 384.95,57.01 385.1,13.67 385.2,13.67 385.35,56.12 385.45,56.12 385.6,56.12 385.6,51.6 390.5,51.6 390.5,51.6 390.5,13.3 393.2,13.3 393.2,13.3 393.2,51.6 396.7,51.6 396.7,51.6 396.7,13.3 396.7,13.78 396.84,13.78 397.05,51.57 397.19,51.57 397.4,13.59 397.54,13.59 397.75,52.33 397.89,52.33 398.1,13.39 398.24,13.39 398.45,50.91 398.59,50.91 398.8,13.75 398.94,13.75 399.15,52.24 399.29,52.24 399.5,13.42 399.64,13.42 399.85,50.98 399.99,50.98 400.2,50.98 400.2,13.3 400.62,13.3 400.62,26.87 401.15,26.87 401.15,13.3 402.02,13.3 402.02,20.36 402.56,20.36 402.56,13.3 403,13.3 403.3,13.3 403.3,62 403.9,62 403.9,13.3 404.2,13.3 404.2,13.3 404.47,13.3 404.47,33.23 404.9,33.23 404.9,13.3 405.37,13.3 405.37,26.32 405.65,26.32 405.65,13.3 406,13.3 406.1,13.3 406.1,14.3 406.1,54.7 406.32,104.1 406.59,58.29 406.8,102.54 407.07,58.63 407.29,96.34 407.56,64.74 407.78,96.16 408.04,57.16 408.26,83.6 408.53,55.24 408.75,78.93 409.01,64.07 409.23,71.78 406.9,71.78 406.9,62 406.95,62 406.95,165.8 407.25,165.8 407.25,67 409.53,67 409.53,19.3 410.4,19.3 410.4,21.3 410.6,21.3 410.6,13.3 414.7,13.3 414.7,13.3 414.7,52.3 418.9,52.3 418.9,52.3 418.9,13.3 418.9,13.3 418.9,13.3 419.26,13.3 419.26,32.29 419.59,32.29 419.59,13.3 420.46,13.3 420.46,38.35 420.77,38.35 420.77,13.3 421.66,13.3 421.66,20.33 421.99,20.33 421.99,13.3 422.5,13.3 422.6,13.3 422.6,57.9 423,57.9 423,53 426.4,53 426.5,53 426.5,19 426.6,19 426.6,14.3 426.6,62.02 426.82,114.02 427.09,57.17 427.3,107.67 427.57,64.3 427.79,105.08 428.06,60.52 428.28,92.12 428.54,71.65 428.76,91.65 429.03,66.44 429.25,83.45 429.51,56.53 429.73,73.89 427.2,73.89 427.2,62 427.25,62 427.25,150.6 427.55,150.6 427.55,67 430.03,67 430.03,19.3 430.2,19.3 430.2,21.3 430.6,21.3 430.6,13.3 431.2,13.3 431.2,25.36 431.72,25.36 431.72,13.3 433.2,13.3 433.2,39.02 433.74,39.02 433.74,13.3 434.6,13.3 433,13.3 433,43.3 433.8,43.3 433.8,13.3 435,13.3 435,13.3 435.46,13.3 435.46,25.49 435.9,25.49 435.9,13.3 436.99,13.3 436.99,36.09 437.46,36.09 437.46,13.3 438.53,13.3 438.53,32.33 439.08,32.33 439.08,13.3 439.6,13.3 440.3,13.3 440.3,56 440.6,56 440.6,52.3 443.8,52.3 443.8,52.3 443.8,14.3 443.8,55.35 444.02,106.13 444.29,67.27 444.5,100.37 444.77,67.27 444.99,97.66 445.26,68.28 445.48,91.25 445.74,60.33 445.96,84.42 446.23,70.22 446.45,81.42 446.71,61.51 446.93,70.1 444.4,70.1 444.4,62 444.45,62 444.45,149 444.75,149 444.75,67 447.23,67 447.23,19.3 448.4,19.3 448.4,21.3 448.6,21.3 448.6,13.3 449.12,13.3 449.12,41.59 449.54,41.59 449.54,13.3 450.84,13.3 450.84,35.62 451.21,35.62 451.21,13.3 452.57,13.3 452.57,34.57 453,34.57 453,13.3 454.29,13.3 454.29,22.01 454.73,22.01 454.73,13.3 455.5,13.3 455.2,13.3 455.2,68 455.6,68 455.6,40 456.4,40 456.4,13.3 457.2,13.3 457.2,55 458,55 458,20 458.6,20 458.6,14.3 458.6,71.88 458.79,107.96 459.01,67.11 459.2,108.65 459.43,67.23 459.62,102.39 459.84,61.93 460.03,93.3 460.26,55.51 460.44,84.57 460.67,54.54 460.86,77 461.09,62.66 461.27,76.75 459.4,76.75 459.4,62 459.45,62 459.45,179 459.75,179 459.75,67 461.57,67 461.57,19.3 461.5,19.3 461.5,21.3 461.8,21.3 461.8,69 462.8,60 464.3,55 464.5,55 464.5,13.3 464.5,13.3 464.5,13.3 464.92,13.3 464.92,37.46 465.32,37.46 465.32,13.3 466.32,13.3 466.32,35.36 466.85,35.36 466.85,13.3 467.3,13.3 466.6,13.3 466.6,51 467.4,51 467.4,13.3 468.6,13.3 468.6,53 470,53 470,13.3 470,13.3 470,13.3 470.4,13.3 470.4,27.67 470.65,27.67 470.65,13.3 471.73,13.3 471.73,29.03 472.19,29.03 472.19,13.3 473.07,13.3 473.07,26.08 473.37,26.08 473.37,13.3 474,13.3 472.6,13.3 472.6,54 473.4,54 473.4,13.3 474.3,13.3 474.3,14.3 474.3,70.3 474.52,110.32 474.79,61.95 475,104.83 475.27,59.89 475.49,100.98 475.76,57.57 475.98,95.76 476.24,68.51 476.46,88.95 476.73,69.84 476.95,87.41 477.21,64.5 477.43,77.52 477.73,77.52 477.73,19.3 478.2,19.3 478.2,21.3 477.7,21.3 477.7,13.3 478.12,13.3 478.12,23.4 478.52,23.4 478.52,13.3 479.52,13.3 479.52,40.93 480.02,40.93 480.02,13.3 480.92,13.3 480.92,37.78 481.46,37.78 481.46,13.3 481.9,13.3 481.3,13.3 481.3,91 481.8,91 481.8,13.3 482.5,13.3 482.5,49.5 484.6,49.5 484.6,13.3 487.4,13.3 487.4,13.3 487.4,52.3 491.4,52.3 491.5,52.3 491.5,19.8 491.6,19.8 491.6,20.8 491.6,58.98 491.82,116.65 492.09,62.11 492.3,112.01 492.57,57.85 492.79,104.66 493.06,65.26 493.28,99.15 493.54,59.68 493.76,87.34 494.03,71.68 494.25,88.96 494.51,55.34 494.73,74.16 492,74.16 492,62 492.05,62 492.05,147 492.35,147 492.35,67 495.03,67 495.03,25.8 495.6,25.8 495.6,27.8 494.8,27.8 494.8,24.6 495.4,24.6 495.4,53.7 496.2,53.7 496.2,42 497.2,42 497.2,55 497.5,55 497.5,92.5 497.9,92.5 497.9,19.1 499,19.1 499,60 499.7,60 499.7,24.6 499.7,28.49 499.84,28.49 500.05,49.25 500.19,49.25 500.4,27.83 500.54,27.83 500.75,52.42 500.89,52.42 501.1,26.24 501.24,26.24 501.45,53.75 501.59,53.75 501.8,25.08 501.94,25.08 502.15,49.82 502.29,49.82 502.5,26.82 502.64,26.82 502.85,49.15 502.99,49.15 503.2,32.12 503.34,32.12 503.54,52.12 503.68,52.12 503.88,29.36 504.02,29.36 504.23,50.98 504.36,50.98 504.57,31.32 504.7,31.32 504.91,53.38 505.04,53.38 505.25,31.32 505.39,31.32 505.59,54.63 505.73,54.63 505.93,32.03 506.07,32.03 506.27,56.45 506.41,56.45 506.62,31.54 506.75,31.54 506.96,51.9 507.1,51.9 507.3,36.9 507.44,36.9 507.65,53.07 507.79,53.07 508,35.04 508.14,35.04 508.35,54.83 508.49,54.83 508.7,37.86 508.84,37.86 509.05,53.07 509.19,53.07 509.4,53.07 509.4,13.3 509.6,13.3 509.6,13.3 509.96,13.3 509.96,21.27 510.31,21.27 510.31,13.3 511.16,13.3 511.16,26.37 511.57,26.37 511.57,13.3 512,13.3 512.2,13.3 512.2,62 512.9,62 512.9,13.3 515.6,13.3 515.8,13.3 515.8,14.3 515.8,65.06 516.02,106.95 516.29,61.08 516.5,103.15 516.77,70.31 516.99,105.18 517.26,70.79 517.48,95.29 517.74,56.34 517.96,86.1 518.23,65.26 518.45,79.52 518.71,60.78 518.93,72.12 516.3,72.12 516.3,62 516.35,62 516.35,145.5 516.65,145.5 516.65,67 519.23,67 519.23,19.3 520.2,19.3 520.2,21.3 520,21.3 520,109.5 520.5,109.5 520.5,56 521.6,62.5 522.5,58 523.5,64 523.9,64 523.9,13.3 523.9,13.3 523.9,13.3 524.27,13.3 524.27,32.95 524.76,32.95 524.76,13.3 525.5,13.3 525.5,34.05 525.89,34.05 525.89,13.3 526.74,13.3 526.74,29.07 527.05,29.07 527.05,13.3 527.6,13.3 527.8,13.3 527.8,53 528.3,53" fill="none" stroke="#ff1a1a" stroke-width="0.55" />
<rect x="317.2" y="9.8" width="219.2" height="173" fill="none" stroke="#7a7a7a" stroke-width="0.9"/>
<line x1="317.2" y1="182.8" x2="317.2" y2="180.6" stroke="#7a7a7a" stroke-width="0.8"/>
<line x1="317.2" y1="9.8" x2="317.2" y2="12" stroke="#7a7a7a" stroke-width="0.8"/>
<text x="317.2" y="192.9" text-anchor="middle" class="tk">0</text>
<line x1="339.12" y1="182.8" x2="339.12" y2="180.6" stroke="#7a7a7a" stroke-width="0.8"/>
<line x1="339.12" y1="9.8" x2="339.12" y2="12" stroke="#7a7a7a" stroke-width="0.8"/>
<text x="339.12" y="192.9" text-anchor="middle" class="tk">1000</text>
<line x1="361.04" y1="182.8" x2="361.04" y2="180.6" stroke="#7a7a7a" stroke-width="0.8"/>
<line x1="361.04" y1="9.8" x2="361.04" y2="12" stroke="#7a7a7a" stroke-width="0.8"/>
<text x="361.04" y="192.9" text-anchor="middle" class="tk">2000</text>
<line x1="382.96" y1="182.8" x2="382.96" y2="180.6" stroke="#7a7a7a" stroke-width="0.8"/>
<line x1="382.96" y1="9.8" x2="382.96" y2="12" stroke="#7a7a7a" stroke-width="0.8"/>
<text x="382.96" y="192.9" text-anchor="middle" class="tk">3000</text>
<line x1="404.88" y1="182.8" x2="404.88" y2="180.6" stroke="#7a7a7a" stroke-width="0.8"/>
<line x1="404.88" y1="9.8" x2="404.88" y2="12" stroke="#7a7a7a" stroke-width="0.8"/>
<text x="404.88" y="192.9" text-anchor="middle" class="tk">4000</text>
<line x1="426.8" y1="182.8" x2="426.8" y2="180.6" stroke="#7a7a7a" stroke-width="0.8"/>
<line x1="426.8" y1="9.8" x2="426.8" y2="12" stroke="#7a7a7a" stroke-width="0.8"/>
<text x="426.8" y="192.9" text-anchor="middle" class="tk">5000</text>
<line x1="448.72" y1="182.8" x2="448.72" y2="180.6" stroke="#7a7a7a" stroke-width="0.8"/>
<line x1="448.72" y1="9.8" x2="448.72" y2="12" stroke="#7a7a7a" stroke-width="0.8"/>
<text x="448.72" y="192.9" text-anchor="middle" class="tk">6000</text>
<line x1="470.64" y1="182.8" x2="470.64" y2="180.6" stroke="#7a7a7a" stroke-width="0.8"/>
<line x1="470.64" y1="9.8" x2="470.64" y2="12" stroke="#7a7a7a" stroke-width="0.8"/>
<text x="470.64" y="192.9" text-anchor="middle" class="tk">7000</text>
<line x1="492.56" y1="182.8" x2="492.56" y2="180.6" stroke="#7a7a7a" stroke-width="0.8"/>
<line x1="492.56" y1="9.8" x2="492.56" y2="12" stroke="#7a7a7a" stroke-width="0.8"/>
<text x="492.56" y="192.9" text-anchor="middle" class="tk">8000</text>
<line x1="514.48" y1="182.8" x2="514.48" y2="180.6" stroke="#7a7a7a" stroke-width="0.8"/>
<line x1="514.48" y1="9.8" x2="514.48" y2="12" stroke="#7a7a7a" stroke-width="0.8"/>
<text x="514.48" y="192.9" text-anchor="middle" class="tk">9000</text>
<line x1="536.4" y1="182.8" x2="536.4" y2="180.6" stroke="#7a7a7a" stroke-width="0.8"/>
<line x1="536.4" y1="9.8" x2="536.4" y2="12" stroke="#7a7a7a" stroke-width="0.8"/>
<text x="536.4" y="192.9" text-anchor="middle" class="tk">10,000</text>
<line x1="317.2" y1="182.8" x2="319.4" y2="182.8" stroke="#7a7a7a" stroke-width="0.8"/>
<line x1="536.4" y1="182.8" x2="534.2" y2="182.8" stroke="#7a7a7a" stroke-width="0.8"/>
<text x="314.6" y="186.1" text-anchor="end" class="tk">590</text>
<line x1="317.2" y1="163.98" x2="319.4" y2="163.98" stroke="#7a7a7a" stroke-width="0.8"/>
<line x1="536.4" y1="163.98" x2="534.2" y2="163.98" stroke="#7a7a7a" stroke-width="0.8"/>
<text x="314.6" y="167.28" text-anchor="end" class="tk">600</text>
<line x1="317.2" y1="145.15" x2="319.4" y2="145.15" stroke="#7a7a7a" stroke-width="0.8"/>
<line x1="536.4" y1="145.15" x2="534.2" y2="145.15" stroke="#7a7a7a" stroke-width="0.8"/>
<text x="314.6" y="148.45" text-anchor="end" class="tk">610</text>
<line x1="317.2" y1="126.33" x2="319.4" y2="126.33" stroke="#7a7a7a" stroke-width="0.8"/>
<line x1="536.4" y1="126.33" x2="534.2" y2="126.33" stroke="#7a7a7a" stroke-width="0.8"/>
<text x="314.6" y="129.63" text-anchor="end" class="tk">620</text>
<line x1="317.2" y1="107.5" x2="319.4" y2="107.5" stroke="#7a7a7a" stroke-width="0.8"/>
<line x1="536.4" y1="107.5" x2="534.2" y2="107.5" stroke="#7a7a7a" stroke-width="0.8"/>
<text x="314.6" y="110.8" text-anchor="end" class="tk">630</text>
<line x1="317.2" y1="88.68" x2="319.4" y2="88.68" stroke="#7a7a7a" stroke-width="0.8"/>
<line x1="536.4" y1="88.68" x2="534.2" y2="88.68" stroke="#7a7a7a" stroke-width="0.8"/>
<text x="314.6" y="91.98" text-anchor="end" class="tk">640</text>
<line x1="317.2" y1="69.85" x2="319.4" y2="69.85" stroke="#7a7a7a" stroke-width="0.8"/>
<line x1="536.4" y1="69.85" x2="534.2" y2="69.85" stroke="#7a7a7a" stroke-width="0.8"/>
<text x="314.6" y="73.15" text-anchor="end" class="tk">650</text>
<line x1="317.2" y1="51.03" x2="319.4" y2="51.03" stroke="#7a7a7a" stroke-width="0.8"/>
<line x1="536.4" y1="51.03" x2="534.2" y2="51.03" stroke="#7a7a7a" stroke-width="0.8"/>
<text x="314.6" y="54.33" text-anchor="end" class="tk">660</text>
<line x1="317.2" y1="32.2" x2="319.4" y2="32.2" stroke="#7a7a7a" stroke-width="0.8"/>
<line x1="536.4" y1="32.2" x2="534.2" y2="32.2" stroke="#7a7a7a" stroke-width="0.8"/>
<text x="314.6" y="35.5" text-anchor="end" class="tk">670</text>
<line x1="317.2" y1="13.38" x2="319.4" y2="13.38" stroke="#7a7a7a" stroke-width="0.8"/>
<line x1="536.4" y1="13.38" x2="534.2" y2="13.38" stroke="#7a7a7a" stroke-width="0.8"/>
<text x="314.6" y="16.68" text-anchor="end" class="tk">680</text>
<text transform="translate(299.9,96.3) rotate(-90)" text-anchor="middle" class="lb" style="font-size:8.3px">Battery Voltage (V)</text>
<text x="426.8" y="202.8" text-anchor="middle" class="lb">Time (s)</text>
<text x="421.5" y="219.5" text-anchor="middle" class="cap">(b)</text>
<polyline points="40.4,315.7 40.5,315.7 40.5,247.48 40.57,247.48 40.53,279.58 40.6,279.58 40.58,247.3 40.66,247.3 40.67,298.67 40.74,298.67 40.77,247.26 40.84,247.26 40.9,277.45 40.97,277.45 41.04,247.15 41.12,247.15 41.21,298.77 41.28,298.77 41.39,247.14 41.46,247.14 41.58,279.39 41.65,279.39 41.8,246.69 41.87,246.69 42.02,300.38 42.1,300.38 42.27,247.92 42.34,247.92 42.52,272.77 42.6,272.77 42.8,247.09 42.87,247.09 43.08,271.96 43.15,271.96 43.9,271.96 43.9,332 44.15,332 44.15,271.96 44.3,271.96 44.3,288 45.2,288 45.2,286 46.2,286 46.2,291 47.44,291 47.44,327.74 47.59,327.74 47.82,377.15 47.98,377.15 48.2,327.85 48.36,327.85 48.59,356.53 48.74,356.53 48.97,327.08 49.12,327.08 49.35,378.71 49.51,378.71 49.73,328.23 49.89,328.23 50.12,376.98 50.27,376.98 50.4,376.98 50.4,361 50.6,361 50.6,295.3 54.1,295.3 54,295.3 54,328 54.3,328 54.3,295.3 54.1,295.3 54.1,244.81 54.18,244.81 54.13,299.78 54.21,299.78 54.2,244.97 54.28,244.97 54.3,282.73 54.37,282.73 54.42,245.18 54.5,245.18 54.57,278.86 54.65,278.86 54.74,245.69 54.82,245.69 54.93,279.53 55.01,279.53 55.14,244.87 55.22,244.87 55.37,300.07 55.45,300.07 55.62,245.81 55.7,245.81 55.89,273.88 55.97,273.88 56.18,244.93 56.25,244.93 56.48,271.72 56.56,271.72 57.3,271.72 57.3,310 57.55,310 57.55,271.72 58.2,271.72 58.2,246.5 58.5,254.6 59.5,254.6 59.8,291 67.3,291 67.3,291 67.3,293 68.2,293 67.6,293 67.6,300 67.85,300 67.85,293 68.76,293 68.76,327.32 68.91,327.32 69.15,379.9 69.31,379.9 69.54,329.37 69.7,329.37 69.93,377.33 70.09,377.33 70.33,330.46 70.48,330.46 70.72,379.55 70.88,379.55 71.11,328.72 71.27,328.72 71.51,352.8 71.66,352.8 72.3,352.8 72.3,291 72.8,291 72.8,300 73.4,300 73.4,352 73.61,352 73.61,330.87 73.69,330.87 73.81,351.65 73.89,351.65 74.01,331.26 74.09,331.26 74.2,379.42 74.28,379.42 74.4,330.99 74.48,330.99 74.6,348.48 74.68,348.48 75.1,348.48 75.1,248.19 75.18,248.19 75.13,285.57 75.21,285.57 75.2,247.13 75.28,247.13 75.3,281.23 75.38,281.23 75.43,247.7 75.51,247.7 75.58,342.88 75.66,342.88 75.76,246.95 75.84,246.95 75.96,275.74 76.04,275.74 76.18,246.79 76.26,246.79 76.42,341.89 76.5,341.89 76.67,247.07 76.75,247.07 76.95,344.11 77.03,344.11 77.25,246.82 77.33,246.82 77.56,269.77 77.64,269.77 78.6,269.77 78.6,292 79.2,292 79.2,332 79.8,332 79.8,300 80.6,300 80.6,332 81.6,332 81.6,322.5 82.97,322.5 82.97,332 84.33,332 84.33,322.5 85.7,322.5 85.7,332 87.07,332 87.07,322.5 88.43,322.5 88.43,332 89.8,332 89.8,332 89.8,323.2 95.3,323.2 95.5,323.2 95.5,317 96.25,317 96.25,336.91 96.43,336.91 96.7,377.74 96.88,377.74 97.16,332.87 97.34,332.87 97.62,379.37 97.8,379.37 98.07,331.21 98.26,331.21 98.53,377.19 98.71,377.19 98.99,331.86 99.17,331.86 99.44,353.88 99.63,353.88 99.4,353.88 99.4,279.9 99.65,279.9 99.65,353.88 100,353.88 100,295.3 102.6,295.3 102.8,295.3 102.8,370.2 103.05,370.2 103.05,295.3 103.2,295.3 103.2,243.92 103.28,243.92 103.23,280.16 103.31,280.16 103.3,244.3 103.38,244.3 103.4,342.45 103.47,342.45 103.52,243.69 103.6,243.69 103.67,344.35 103.75,344.35 103.84,244.48 103.92,244.48 104.03,279.69 104.11,279.69 104.24,244.18 104.32,244.18 104.47,344.35 104.55,344.35 104.72,244.52 104.8,244.52 104.99,272.61 105.07,272.61 105.28,244.1 105.35,244.1 105.58,268.35 105.66,268.35 107.6,268.35 107.6,343 107.85,343 107.85,268.35 108.9,268.35 108.9,296 114.8,296 114.8,296 114.8,350 117.1,350 117.1,350 117.1,296 120.2,296 120.2,296 120.2,350 121.8,350 121.8,300 122.6,300 122.6,330 124.14,330 124.14,322.67 124.36,322.67 124.68,378.48 124.89,378.48 125.22,325.4 125.43,325.4 125.75,349.42 125.97,349.42 126.29,322 126.51,322 126.83,350.21 127.05,350.21 127.37,323.01 127.59,323.01 127.91,378.07 128.12,378.07 128.45,330.74 128.66,330.74 128.98,378.44 129.2,378.44 129.52,324.52 129.74,324.52 130.06,379.09 130.28,379.09 126.4,379.09 126.4,285.7 126.65,285.7 126.65,379.09 130.2,379.09 130.2,244.99 130.3,244.99 130.24,342.95 130.33,342.95 130.32,243.63 130.42,243.63 130.44,278.93 130.54,278.93 130.6,244.01 130.69,244.01 130.78,278.53 130.87,278.53 130.99,244.74 131.08,244.74 131.22,341.57 131.32,341.57 131.49,244.93 131.58,244.93 131.77,275.5 131.87,275.5 132.08,243.72 132.17,243.72 132.41,272.52 132.51,272.52 132.76,243.54 132.86,243.54 133.14,344.43 133.23,344.43 134.3,344.43 134.3,337 135.2,337 135.2,337 136.05,337 136.05,350 136.9,350 136.9,337 137.75,337 137.75,350 138.6,350 138.6,350 138.6,296 142.2,296 143.06,296 143.06,324.14 143.25,324.14 143.53,379.06 143.71,379.06 144,321.78 144.18,321.78 144.46,379.5 144.65,379.5 144.93,325.09 145.12,325.09 145.4,380.36 145.58,380.36 145.87,326.06 146.05,326.06 146.33,350.56 146.52,350.56 146.5,350.56 146.5,291.2 146.8,291.2 146.8,295.3 150.3,295.3 150.4,295.3 150.4,328 150.65,328 150.65,295.3 150.6,295.3 150.6,245.51 150.68,245.51 150.63,280.81 150.71,280.81 150.7,245.18 150.78,245.18 150.8,298.59 150.87,298.59 150.92,244.44 151,244.44 151.07,278.7 151.15,278.7 151.24,244.79 151.32,244.79 151.43,301.37 151.51,301.37 151.64,245.07 151.72,245.07 151.87,278.31 151.95,278.31 152.12,245.88 152.2,245.88 152.39,275.16 152.47,275.16 152.68,244.95 152.75,244.95 152.98,267.78 153.06,267.78 153.6,267.78 153.6,322.5 154.52,322.5 154.52,332 155.43,332 155.43,322.5 156.35,322.5 156.35,332 157.27,332 157.27,322.5 158.18,322.5 158.18,332 159.1,332 156.4,332 156.4,304 157.7,304 157.7,332 160.06,332 160.06,322.7 160.25,322.7 160.53,380.95 160.71,380.95 161,324.88 161.18,324.88 161.46,380.72 161.65,380.72 161.93,322.75 162.12,322.75 162.4,354.14 162.58,354.14 162.87,326.67 163.05,326.67 163.33,379.16 163.52,379.16 163.2,379.16 163.2,291.2 163.9,291.2 163.9,295.3 167.1,295.3 167.3,295.3 167.3,245.05 167.41,245.05 167.34,291.09 167.44,291.09 167.42,244.53 167.53,244.53 167.55,305.66 167.65,305.66 167.7,245.09 167.81,245.09 167.89,289.27 167.99,289.27 168.1,244.53 168.2,244.53 168.34,306.48 168.44,306.48 168.6,244.44 168.71,244.44 168.89,283.35 169,283.35 169.2,245.1 169.31,245.1 169.54,280.83 169.64,280.83 169.89,245.32 170,245.32 170.27,277.21 170.38,277.21 170.67,245.11 170.78,245.11 171.09,303.97 171.2,303.97 172.4,303.97 172.4,317 173.4,317 173.4,322.5 174,322.5 174,330 174.9,330 174.9,326.39 175.1,326.39 175.41,378.6 175.61,378.6 175.92,325.99 176.12,325.99 176.43,381.26 176.63,381.26 176.94,321.56 177.14,321.56 177.45,378.38 177.65,378.38 177.96,321.7 178.16,321.7 178.47,353.01 178.67,353.01 178.98,326.11 179.18,326.11 179.49,379.93 179.69,379.93 178.2,379.93 178.2,279.9 178.45,279.9 178.45,379.93 180.2,379.93 180.2,370.2 180.45,370.2 180.45,379.93 182,379.93 182,245.23 182.09,245.23 182.03,299.87 182.12,299.87 182.1,244.25 182.19,244.25 182.2,285.36 182.29,285.36 182.33,243.76 182.42,243.76 182.49,300 182.57,300 182.66,244.1 182.75,244.1 182.86,278.98 182.95,278.98 183.08,242.56 183.17,242.56 183.32,276.15 183.41,276.15 183.58,243.05 183.67,243.05 183.86,270.91 183.94,270.91 184.15,244.9 184.24,244.9 184.47,269.31 184.55,269.31 184.8,243.92 184.88,243.92 185.15,269.22 185.23,269.22 186,269.22 186,287 190.2,319 188.2,319 188.2,330 188.75,330 188.75,349.6 189.3,349.6 189.3,330 189.85,330 189.85,349.6 190.4,349.6 191.5,349.6 191.5,326.14 191.7,326.14 192.01,380.35 192.22,380.35 192.53,322.85 192.74,322.85 193.05,353.48 193.25,353.48 193.56,323.99 193.77,323.99 194.08,380.31 194.29,380.31 194.6,326.06 194.8,326.06 195.11,380.28 195.32,380.28 195.63,329.3 195.84,329.3 196.15,379.83 196.36,379.83 196.67,326.04 196.87,326.04 197.18,353.09 197.39,353.09 198.1,353.09 198.1,247.48 198.19,247.48 198.14,283.27 198.23,283.27 198.22,247.52 198.31,247.52 198.34,285.57 198.43,285.57 198.49,247.85 198.58,247.85 198.66,301.32 198.76,301.32 198.87,247.19 198.96,247.19 199.1,278.84 199.19,278.84 199.35,248.21 199.44,248.21 199.63,278.15 199.72,278.15 199.93,247.01 200.02,247.01 200.25,299.82 200.34,299.82 200.59,246.91 200.69,246.91 200.96,268.74 201.05,268.74 201.7,268.74 201.7,309 202.24,309 202.24,337.6 202.77,337.6 202.77,309 203.31,309 203.31,337.6 203.85,337.6 203.85,309 204.39,309 204.39,337.6 204.93,337.6 204.93,309 205.46,309 205.46,337.6 206,337.6 204.3,337.6 204.3,256.2 204.55,256.2 204.55,337.6 206.7,337.6 206.7,298.8 207,298.8 207,323 207.96,323 207.96,327.7 208.15,327.7 208.43,377.96 208.61,377.96 208.9,327.29 209.08,327.29 209.36,377.93 209.55,377.93 209.83,328.29 210.02,328.29 210.3,356.74 210.48,356.74 210.76,324.32 210.95,324.32 211.23,378.69 211.42,378.69 211.7,378.69 211.7,295.2 215.1,295.2 215.3,295.2 215.3,246.18 215.39,246.18 215.34,285.66 215.43,285.66 215.42,244.94 215.51,244.94 215.54,300.05 215.63,300.05 215.69,245.21 215.78,245.21 215.86,278.1 215.96,278.1 216.07,245.18 216.16,245.18 216.3,298.56 216.39,298.56 216.55,245.53 216.64,245.53 216.83,275.17 216.92,275.17 217.13,244.73 217.22,244.73 217.45,271.61 217.54,271.61 217.79,245.64 217.89,245.64 218.16,269.39 218.25,269.39 221.1,269.39 221.1,252.6 221.35,252.6 221.35,269.39 219.2,269.39 219.2,294.5 220,294.5 220,322 221.5,322 221.5,304.5 222.3,304.5 222.3,329 223.2,329 223.2,288.32 223.39,288.32 223.68,311.88 223.87,311.88 224.16,293.05 224.35,293.05 224.63,312.88 224.82,312.88 225.11,290.74 225.3,290.74 225.59,308.34 225.78,308.34 226.07,291.53 226.26,291.53 226.54,313.56 226.74,313.56 227.02,293.8 227.21,293.8 227.5,309.48 227.69,309.48 227.98,295.67 228.17,295.67 228.46,316.84 228.65,316.84 228.93,298.76 229.12,298.76 229.41,312.73 229.6,312.73 229.89,296.52 230.08,296.52 230.37,319.13 230.56,319.13 230.84,299.74 231.04,299.74 231.32,318.49 231.51,318.49 232.96,318.49 232.96,322.39 233.11,322.39 233.35,380.18 233.51,380.18 233.74,318.15 233.9,318.15 234.13,377.76 234.29,377.76 234.53,318.08 234.68,318.08 234.92,355.56 235.08,355.56 235.31,317.78 235.47,317.78 235.71,377.86 235.86,377.86 236.1,377.86 236.1,356.2 236.58,356.2 236.58,365.8 237.07,365.8 237.07,356.2 237.55,356.2 237.55,365.8 238.03,365.8 238.03,356.2 238.52,356.2 238.52,365.8 239,365.8 239,365.8 239,246.55 239.1,246.55 239.03,298.89 239.14,298.89 239.1,245.75 239.21,245.75 239.21,282.36 239.31,282.36 239.34,244.92 239.44,244.92 239.49,280.78 239.6,280.78 239.67,244.8 239.78,244.8 239.88,279.81 239.98,279.81 240.1,245.32 240.2,245.32 240.34,279.03 240.45,279.03 240.61,246.22 240.71,246.22 240.89,300 240.99,300 241.19,245.06 241.29,245.06 241.51,298.55 241.61,298.55 241.85,245.2 241.95,245.2 242.2,271.52 242.31,271.52 242.57,246.17 242.68,246.17 242.96,272.3 243.06,272.3 243.36,245.08 243.47,245.08 243.78,269.39 243.89,269.39 245,269.39 245,288 246,288 246,291.6 246.8,291.6 246.8,286 247.69,286 247.69,321.25 247.85,321.25 248.1,380.66 248.27,380.66 248.51,323.76 248.68,323.76 248.93,378.64 249.09,378.64 249.34,317.83 249.51,317.83 249.76,351.59 249.92,351.59 250.17,323.05 250.34,323.05 250.59,378.42 250.75,378.42 251.2,378.42 251.2,295.2 251.6,295.2" fill="none" stroke="#000" stroke-width="0.5" stroke-linejoin="miter"/>
<rect x="40.3" y="229.4" width="219.3" height="173" fill="none" stroke="#7a7a7a" stroke-width="0.9"/>
<line x1="40.3" y1="402.4" x2="40.3" y2="400.2" stroke="#7a7a7a" stroke-width="0.8"/>
<line x1="40.3" y1="229.4" x2="40.3" y2="231.6" stroke="#7a7a7a" stroke-width="0.8"/>
<text x="40.3" y="412.5" text-anchor="middle" class="tk">0</text>
<line x1="62.23" y1="402.4" x2="62.23" y2="400.2" stroke="#7a7a7a" stroke-width="0.8"/>
<line x1="62.23" y1="229.4" x2="62.23" y2="231.6" stroke="#7a7a7a" stroke-width="0.8"/>
<text x="62.23" y="412.5" text-anchor="middle" class="tk">1000</text>
<line x1="84.16" y1="402.4" x2="84.16" y2="400.2" stroke="#7a7a7a" stroke-width="0.8"/>
<line x1="84.16" y1="229.4" x2="84.16" y2="231.6" stroke="#7a7a7a" stroke-width="0.8"/>
<text x="84.16" y="412.5" text-anchor="middle" class="tk">2000</text>
<line x1="106.09" y1="402.4" x2="106.09" y2="400.2" stroke="#7a7a7a" stroke-width="0.8"/>
<line x1="106.09" y1="229.4" x2="106.09" y2="231.6" stroke="#7a7a7a" stroke-width="0.8"/>
<text x="106.09" y="412.5" text-anchor="middle" class="tk">3000</text>
<line x1="128.02" y1="402.4" x2="128.02" y2="400.2" stroke="#7a7a7a" stroke-width="0.8"/>
<line x1="128.02" y1="229.4" x2="128.02" y2="231.6" stroke="#7a7a7a" stroke-width="0.8"/>
<text x="128.02" y="412.5" text-anchor="middle" class="tk">4000</text>
<line x1="149.95" y1="402.4" x2="149.95" y2="400.2" stroke="#7a7a7a" stroke-width="0.8"/>
<line x1="149.95" y1="229.4" x2="149.95" y2="231.6" stroke="#7a7a7a" stroke-width="0.8"/>
<text x="149.95" y="412.5" text-anchor="middle" class="tk">5000</text>
<line x1="171.88" y1="402.4" x2="171.88" y2="400.2" stroke="#7a7a7a" stroke-width="0.8"/>
<line x1="171.88" y1="229.4" x2="171.88" y2="231.6" stroke="#7a7a7a" stroke-width="0.8"/>
<text x="171.88" y="412.5" text-anchor="middle" class="tk">6000</text>
<line x1="193.81" y1="402.4" x2="193.81" y2="400.2" stroke="#7a7a7a" stroke-width="0.8"/>
<line x1="193.81" y1="229.4" x2="193.81" y2="231.6" stroke="#7a7a7a" stroke-width="0.8"/>
<text x="193.81" y="412.5" text-anchor="middle" class="tk">7000</text>
<line x1="215.74" y1="402.4" x2="215.74" y2="400.2" stroke="#7a7a7a" stroke-width="0.8"/>
<line x1="215.74" y1="229.4" x2="215.74" y2="231.6" stroke="#7a7a7a" stroke-width="0.8"/>
<text x="215.74" y="412.5" text-anchor="middle" class="tk">8000</text>
<line x1="237.67" y1="402.4" x2="237.67" y2="400.2" stroke="#7a7a7a" stroke-width="0.8"/>
<line x1="237.67" y1="229.4" x2="237.67" y2="231.6" stroke="#7a7a7a" stroke-width="0.8"/>
<text x="237.67" y="412.5" text-anchor="middle" class="tk">9000</text>
<line x1="259.6" y1="402.4" x2="259.6" y2="400.2" stroke="#7a7a7a" stroke-width="0.8"/>
<line x1="259.6" y1="229.4" x2="259.6" y2="231.6" stroke="#7a7a7a" stroke-width="0.8"/>
<text x="259.6" y="412.5" text-anchor="middle" class="tk">10,000</text>
<line x1="40.3" y1="402.4" x2="42.5" y2="402.4" stroke="#7a7a7a" stroke-width="0.8"/>
<line x1="259.6" y1="402.4" x2="257.4" y2="402.4" stroke="#7a7a7a" stroke-width="0.8"/>
<text x="37.7" y="405.7" text-anchor="end" class="tk">−600</text>
<line x1="40.3" y1="373.57" x2="42.5" y2="373.57" stroke="#7a7a7a" stroke-width="0.8"/>
<line x1="259.6" y1="373.57" x2="257.4" y2="373.57" stroke="#7a7a7a" stroke-width="0.8"/>
<text x="37.7" y="376.87" text-anchor="end" class="tk">−400</text>
<line x1="40.3" y1="344.73" x2="42.5" y2="344.73" stroke="#7a7a7a" stroke-width="0.8"/>
<line x1="259.6" y1="344.73" x2="257.4" y2="344.73" stroke="#7a7a7a" stroke-width="0.8"/>
<text x="37.7" y="348.03" text-anchor="end" class="tk">−200</text>
<line x1="40.3" y1="315.9" x2="42.5" y2="315.9" stroke="#7a7a7a" stroke-width="0.8"/>
<line x1="259.6" y1="315.9" x2="257.4" y2="315.9" stroke="#7a7a7a" stroke-width="0.8"/>
<text x="37.7" y="319.2" text-anchor="end" class="tk">0</text>
<line x1="40.3" y1="287.07" x2="42.5" y2="287.07" stroke="#7a7a7a" stroke-width="0.8"/>
<line x1="259.6" y1="287.07" x2="257.4" y2="287.07" stroke="#7a7a7a" stroke-width="0.8"/>
<text x="37.7" y="290.37" text-anchor="end" class="tk">200</text>
<line x1="40.3" y1="258.23" x2="42.5" y2="258.23" stroke="#7a7a7a" stroke-width="0.8"/>
<line x1="259.6" y1="258.23" x2="257.4" y2="258.23" stroke="#7a7a7a" stroke-width="0.8"/>
<text x="37.7" y="261.53" text-anchor="end" class="tk">400</text>
<line x1="40.3" y1="229.4" x2="42.5" y2="229.4" stroke="#7a7a7a" stroke-width="0.8"/>
<line x1="259.6" y1="229.4" x2="257.4" y2="229.4" stroke="#7a7a7a" stroke-width="0.8"/>
<text x="37.7" y="232.7" text-anchor="end" class="tk">600</text>
<text transform="translate(18.4,317.2) rotate(-90)" text-anchor="middle" class="lb" style="font-size:7.85px">Battery current (A)</text>
<text x="149.95" y="422.3" text-anchor="middle" class="lb">Time (s)</text>
<text x="144.5" y="440" text-anchor="middle" class="cap">(c)</text>
<line x1="310.4" y1="347.68" x2="537.2" y2="347.68" stroke="#ee2020" stroke-width="1.1"/>
<line x1="310.4" y1="388.64" x2="537.2" y2="388.64" stroke="#ee2020" stroke-width="1.1"/>
<polyline points="310.5,232.1 312,239.1 313.7,247.8 314.8,248.9 318.1,258.7 320.3,251.1 322.5,254.4 325.1,260.9 326.8,268.5 330.1,290.4 333.4,298 339.5,319.5 342.5,311.8 344.7,316.2 346.9,307.9 351.5,335.4 357.4,327.5 361.7,321.6 367.8,314.4 372.2,299.8 375.3,307.5 378.3,323.2 379.6,321.6 380.9,319.5 386.4,331.5 389.7,319.9 392.9,326.7 394.9,322.7 396.6,324.9 403.2,299.8 406.5,318.4 412.4,298.7 415.6,305.7 420.5,290.7 424.2,299.5 427,316.3 429.2,313.6 432.5,311 434.6,308.2 437.5,296.8 440.7,303.8 445.5,328.5 448.8,324.5 452.1,313.6 456.5,299.9 459.7,313.6 463.2,328 465.6,326.4 469.7,312.5 471.4,316.2 473.1,306.1 476.6,324.4 479.5,319.5 482,317.4 483.6,317.4 487.2,306.1 490.7,316.5 494.3,335.4 497.9,341.9 500,342.7 504.1,348.5 509,355 512,345.2 516.4,322.3 521.3,346.8 525,359.9 529,348" fill="none" stroke="#3a3ae6" stroke-width="0.9" stroke-linejoin="round"/>
<rect x="310.4" y="231.6" width="226.8" height="170.7" fill="none" stroke="#3a3a3a" stroke-width="1.3"/>
<line x1="307.3" y1="402.3" x2="310.4" y2="402.3" stroke="#3a3a3a" stroke-width="1"/>
<text x="304.2" y="404.8" text-anchor="end" class="tkd">50</text>
<line x1="308.6" y1="393.76" x2="310.4" y2="393.76" stroke="#3a3a3a" stroke-width="1"/>
<line x1="307.3" y1="385.23" x2="310.4" y2="385.23" stroke="#3a3a3a" stroke-width="1"/>
<text x="304.2" y="387.73" text-anchor="end" class="tkd">55</text>
<line x1="308.6" y1="376.69" x2="310.4" y2="376.69" stroke="#3a3a3a" stroke-width="1"/>
<line x1="307.3" y1="368.16" x2="310.4" y2="368.16" stroke="#3a3a3a" stroke-width="1"/>
<text x="304.2" y="370.66" text-anchor="end" class="tkd">60</text>
<line x1="308.6" y1="359.62" x2="310.4" y2="359.62" stroke="#3a3a3a" stroke-width="1"/>
<line x1="307.3" y1="351.09" x2="310.4" y2="351.09" stroke="#3a3a3a" stroke-width="1"/>
<text x="304.2" y="353.59" text-anchor="end" class="tkd">65</text>
<line x1="308.6" y1="342.56" x2="310.4" y2="342.56" stroke="#3a3a3a" stroke-width="1"/>
<line x1="307.3" y1="334.02" x2="310.4" y2="334.02" stroke="#3a3a3a" stroke-width="1"/>
<text x="304.2" y="336.52" text-anchor="end" class="tkd">70</text>
<line x1="308.6" y1="325.49" x2="310.4" y2="325.49" stroke="#3a3a3a" stroke-width="1"/>
<line x1="307.3" y1="316.95" x2="310.4" y2="316.95" stroke="#3a3a3a" stroke-width="1"/>
<text x="304.2" y="319.45" text-anchor="end" class="tkd">75</text>
<line x1="308.6" y1="308.41" x2="310.4" y2="308.41" stroke="#3a3a3a" stroke-width="1"/>
<line x1="307.3" y1="299.88" x2="310.4" y2="299.88" stroke="#3a3a3a" stroke-width="1"/>
<text x="304.2" y="302.38" text-anchor="end" class="tkd">80</text>
<line x1="308.6" y1="291.35" x2="310.4" y2="291.35" stroke="#3a3a3a" stroke-width="1"/>
<line x1="307.3" y1="282.81" x2="310.4" y2="282.81" stroke="#3a3a3a" stroke-width="1"/>
<text x="304.2" y="285.31" text-anchor="end" class="tkd">85</text>
<line x1="308.6" y1="274.27" x2="310.4" y2="274.27" stroke="#3a3a3a" stroke-width="1"/>
<line x1="307.3" y1="265.74" x2="310.4" y2="265.74" stroke="#3a3a3a" stroke-width="1"/>
<text x="304.2" y="268.24" text-anchor="end" class="tkd">90</text>
<line x1="308.6" y1="257.2" x2="310.4" y2="257.2" stroke="#3a3a3a" stroke-width="1"/>
<line x1="307.3" y1="248.67" x2="310.4" y2="248.67" stroke="#3a3a3a" stroke-width="1"/>
<text x="304.2" y="251.17" text-anchor="end" class="tkd">95</text>
<line x1="308.6" y1="240.13" x2="310.4" y2="240.13" stroke="#3a3a3a" stroke-width="1"/>
<line x1="307.3" y1="231.6" x2="310.4" y2="231.6" stroke="#3a3a3a" stroke-width="1"/>
<text x="304.2" y="234.1" text-anchor="end" class="tkd">100</text>
<line x1="310.4" y1="402.3" x2="310.4" y2="405.4" stroke="#3a3a3a" stroke-width="1"/>
<line x1="367.1" y1="402.3" x2="367.1" y2="404.1" stroke="#3a3a3a" stroke-width="1"/>
<line x1="423.8" y1="402.3" x2="423.8" y2="405.4" stroke="#3a3a3a" stroke-width="1"/>
<text x="423.8" y="412.6" text-anchor="middle" class="tkd">5000</text>
<line x1="480.5" y1="402.3" x2="480.5" y2="404.1" stroke="#3a3a3a" stroke-width="1"/>
<line x1="537.2" y1="402.3" x2="537.2" y2="405.4" stroke="#3a3a3a" stroke-width="1"/>
<text x="532.7" y="412.6" text-anchor="middle" class="tkd">10,000</text>
<text transform="translate(288.8,316.5) rotate(-90)" text-anchor="middle" class="lbd" style="font-size:8.9px">SOC</text>
<text x="424" y="423" text-anchor="middle" class="lbd">Time (s)</text>
<text x="419" y="440.2" text-anchor="middle" class="cap">(d)</text>
</svg>
</body></html>
